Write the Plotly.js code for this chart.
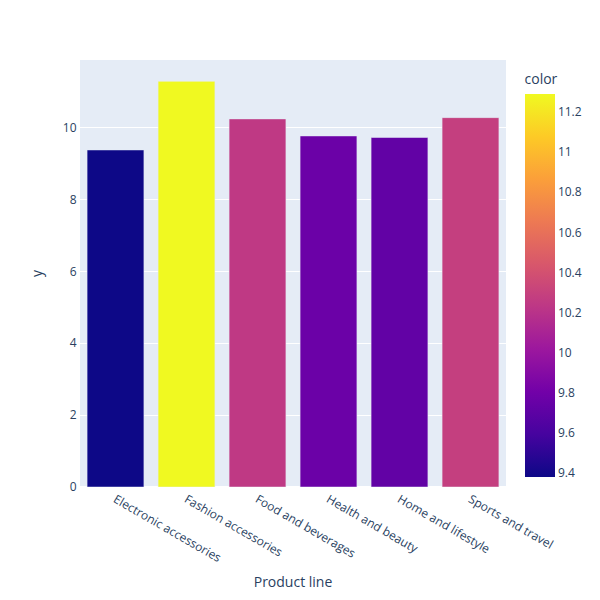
<!DOCTYPE html>
<html>
<head>
<meta charset="utf-8">
<script src="https://cdn.plot.ly/plotly-3.0.1.min.js"></script>
<style>body{margin:0;padding:0;}#chart{width:600px;height:600px;}</style>
</head>
<body>
<div id="chart"></div>
<script>
const categories = ["Electronic accessories", "Fashion accessories", "Food and beverages", "Health and beauty", "Home and lifestyle", "Sports and travel"];
const values = [9.38, 11.29, 10.245, 9.77, 9.727, 10.28];

const plasma = [[0.0, "#0d0887"], [0.1111111111111111, "#46039f"], [0.2222222222222222, "#7201a8"], [0.3333333333333333, "#9c179e"], [0.4444444444444444, "#bd3786"], [0.5555555555555556, "#d8576b"], [0.6666666666666666, "#ed7953"], [0.7777777777777778, "#fb9f3a"], [0.8888888888888888, "#fdca26"], [1.0, "#f0f921"]];

const trace = {
  type: "bar",
  x: categories,
  y: values,
  marker: {color: values, coloraxis: "coloraxis", line: {width: 0.5, color: "#E5ECF6"}},
  hovertemplate: "Product line=%{x}<br>y=%{y}<br>color=%{marker.color}<extra></extra>"
};

const layout = {
  width: 600, height: 600,
  font: {family: '"Open Sans", verdana, arial, sans-serif', size: 12, color: "#2a3f5f"},
  paper_bgcolor: "white",
  plot_bgcolor: "#E5ECF6",
  margin: {t: 60, l: 80, r: 80, b: 100},
  barmode: "relative",
  xaxis: {title: {text: "Product line", standoff: 12}, showgrid: false, linecolor: "white", ticks: "", zerolinecolor: "white", automargin: true, tickangle: 30},
  yaxis: {title: {text: "y"}, gridcolor: "white", linecolor: "white", ticks: "", zerolinecolor: "white", zerolinewidth: 2, automargin: true},
  coloraxis: {
    colorscale: plasma,
    colorbar: {title: {text: "color"}, outlinewidth: 0, ticks: ""}
  },
  showlegend: false
};

Plotly.newPlot("chart", [trace], layout, {displayModeBar: false});
</script>
</body>
</html>
